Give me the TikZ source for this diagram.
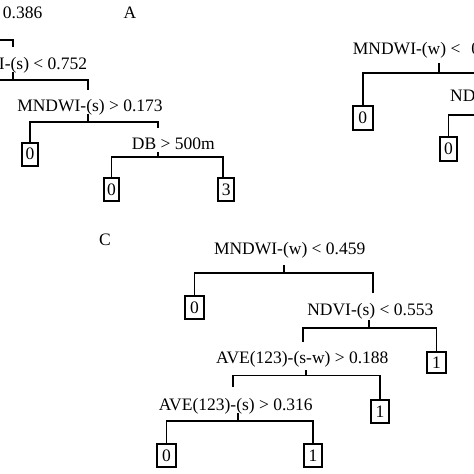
\documentclass[tikz,border=0pt]{standalone}
\usepackage{fontspec}
\setmainfont{Liberation Serif}
\begin{document}
\begin{tikzpicture}[x=1pt,y=-1pt,
  lab/.style={inner sep=0pt, text height=13pt, text depth=4pt, anchor=base, font=\fontsize{17.5}{20}\selectfont},
  leaf/.style={draw, line width=1.8pt, inner sep=0pt, minimum width=18pt, minimum height=23pt, font=\fontsize{17.5}{20}\selectfont},
  edge/.style={line width=1.9pt}]
\useasboundingbox (0,0) rectangle (474,474);
\clip (0,0) rectangle (474,474);

% ---------- panel A ----------
\node[lab] (pA) at (130,18.3) {A};
\node[lab, anchor=base west] (a1) at (2.7,18.3) {0.386};
\node[lab, anchor=base east] (a2) at (87.3,69.3) {I-(s) < 0.752};
\node[lab] (a3) at (90,111.7) {MNDWI-(s) > 0.173};
\node[lab] (a4) at (173.3,149.3) {DB > 500m};
\node[leaf, minimum width=16.7pt] (aL0) at (30,154.2) {0};
\node[leaf, minimum width=15.5pt, minimum height=22.7pt] (aL00) at (111.5,189.7) {0};
\node[leaf, minimum width=15.7pt, minimum height=22.7pt] (aL3) at (226.2,189.7) {3};

\coordinate (a1l) at (-10,40);
\coordinate (a1r) at (13.3,40);
\draw[edge, shorten >=9.6pt] (a1l) -- (a1r) -- (a1r |- a2.north);

\coordinate (a2j) at (13.3,80);
\coordinate (a2l) at (-10,80);
\coordinate (a2r) at (87.7,80);
\draw[edge, shorten <=-1.5pt] (a2.south -| a2j) -- (a2j);
\draw[edge, shorten >=8.7pt] (a2l) -- (a2r) -- (a2r |- a3.north);

\coordinate (a3j) at (87.7,121.7);
\coordinate (a3r) at (158.3,121.7);
\draw[edge, shorten <=-2.4pt] (a3.south -| a3j) -- (a3j);
\draw[edge, shorten >=8pt] (aL0.north) |- (a3r) -- (a3r |- a4.north);

\coordinate (a4j) at (158.3,156.7);
\coordinate (a4r) at (222.7,156.7);
\draw[edge, shorten <=-1.6pt] (a4.south -| a4j) -- (a4j);
\draw[edge] (aL00.north) |- (a4r) -- (a4r |- aL3.north);

% ---------- panel B ----------
\node[lab, anchor=base west] (b1) at (352.7,54) {MNDWI-(w) <\hspace{11pt}0};
\node[lab, anchor=base west] (b2) at (450,101.7) {ND};
\node[leaf, minimum width=20pt, minimum height=24pt] (bL0) at (362.7,118) {0};
\node[leaf, minimum width=16.7pt, minimum height=23.7pt] (bL00) at (448.5,148.9) {0};

\coordinate (b1j) at (439,72.7);
\coordinate (b1r) at (490,72.7);
\draw[edge, shorten <=4.7pt] (b1.south -| b1j) -- (b1j);
\draw[edge] (bL0.north) |- (b1r);

\coordinate (b2r) at (490,115);
\draw[edge] (bL00.north) |- (b2r);

% ---------- panel C ----------
\node[lab] (pC) at (105,245) {C};
\node[lab] (c1) at (289.7,254) {MNDWI-(w) < 0.459};
\node[lab] (c2) at (370.3,315.7) {NDVI-(s) < 0.553};
\node[lab] (c3) at (302.3,363.3) {AVE(123)-(s-w) > 0.188};
\node[lab] (c4) at (235.8,410.7) {AVE(123)-(s) > 0.316};
\node[leaf, minimum width=19pt] (cL0) at (194.5,307.5) {0};
\node[leaf, minimum width=19pt, minimum height=21pt] (cL1) at (436.5,362.5) {1};
\node[leaf] (cL1b) at (380,411.5) {1};
\node[leaf, minimum width=19pt] (cL0c) at (166.5,455.5) {0};
\node[leaf] (cL1c) at (313,455.5) {1};

\coordinate (c1j) at (284,272.7);
\coordinate (c1r) at (373,272.7);
\draw[edge, shorten <=7pt] (c1.south -| c1j) -- (c1j);
\draw[edge, shorten >=9.7pt] (cL0.north) |- (c1r) -- (c1r |- c2.north);

\coordinate (c2j) at (369,328);
\coordinate (c2l) at (303,328);
\draw[edge] (c2.south -| c2j) -- (c2j);
\draw[edge, shorten >=8.3pt] (cL1.north) |- (c2l) -- (c2l |- c3.north);

\coordinate (c3j) at (306,375.5);
\coordinate (c3l) at (233,375.5);
\draw[edge, shorten <=2.5pt] (c3.south -| c3j) -- (c3j);
\draw[edge, shorten >=10.7pt] (cL1b.north) |- (c3l) -- (c3l |- c4.north);

\coordinate (c4j) at (238,421);
\draw[edge, shorten <=-1.5pt] (c4.south -| c4j) -- (c4j);
\draw[edge] (cL0c.north) |- (c4j) -| (cL1c.north);
\end{tikzpicture}
\end{document}
